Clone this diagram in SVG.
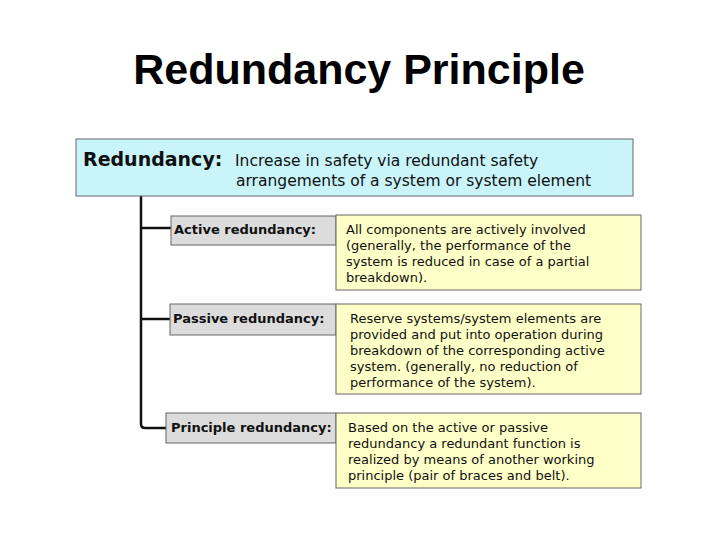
<svg xmlns="http://www.w3.org/2000/svg" width="720" height="540" viewBox="0 0 720 540">
<style>
.t{font-family:"DejaVu Sans",Verdana,sans-serif;font-size:13px;fill:#111}
.h{font-family:"DejaVu Sans",Verdana,sans-serif;font-size:15.5px;fill:#111}
.b{font-family:"DejaVu Sans",Verdana,sans-serif;font-size:13px;font-weight:bold;fill:#111}
.g{fill:#dcdcdc;stroke:#666;stroke-width:1}
.y{fill:#ffffc8;stroke:#666;stroke-width:1}
.c{fill:none;stroke:#111;stroke-width:2.5}
</style>
<rect width="720" height="540" fill="#fff"/>
<text x="359" y="84" text-anchor="middle" font-family="Liberation Sans,Arial,sans-serif" font-size="43" font-weight="bold" fill="#000">Redundancy Principle</text>
<g id="connectors">
<path class="c" d="M141 196 V424 Q141 428 145 428 H166"/>
<path class="c" d="M141 228 H171"/>
<path class="c" d="M141 319 H170"/>
</g>
<g id="redundancy">
<rect x="76" y="139" width="557" height="57" fill="#c8f4fa" stroke="#666"/>
<text x="83" y="166" font-family="DejaVu Sans,Verdana,sans-serif" font-size="19" font-weight="bold" fill="#111">Redundancy:</text>
<text x="235" y="166" class="h">Increase in safety via redundant safety</text>
<text x="236" y="186" class="h">arrangements of a system or system element</text>
</g>
<g id="active">
<rect class="g" x="171" y="216" width="165" height="29"/>
<rect class="y" x="336" y="215" width="305" height="75"/>
<text class="b" x="174" y="234">Active redundancy:</text>
<text class="t" x="346" y="234">All components are actively involved</text>
<text class="t" x="346" y="250">(generally, the performance of the</text>
<text class="t" x="346" y="266">system is reduced in case of a partial</text>
<text class="t" x="346" y="282">breakdown).</text>
</g>
<g id="passive">
<rect class="g" x="170" y="304" width="166" height="31"/>
<rect class="y" x="336" y="304" width="305" height="90"/>
<text class="b" x="173" y="323">Passive redundancy:</text>
<text class="t" x="350" y="323">Reserve systems/system elements are</text>
<text class="t" x="350" y="339">provided and put into operation during</text>
<text class="t" x="350" y="355">breakdown of the corresponding active</text>
<text class="t" x="350" y="371">system. (generally, no reduction of</text>
<text class="t" x="350" y="387">performance of the system).</text>
</g>
<g id="principle">
<rect class="g" x="166" y="413" width="170" height="30"/>
<rect class="y" x="336" y="413" width="305" height="75"/>
<text class="b" x="171" y="432">Principle redundancy:</text>
<text class="t" x="348" y="432">Based on the active or passive</text>
<text class="t" x="348" y="448">redundancy a redundant function is</text>
<text class="t" x="348" y="464">realized by means of another working</text>
<text class="t" x="348" y="480">principle (pair of braces and belt).</text>
</g>
</svg>
